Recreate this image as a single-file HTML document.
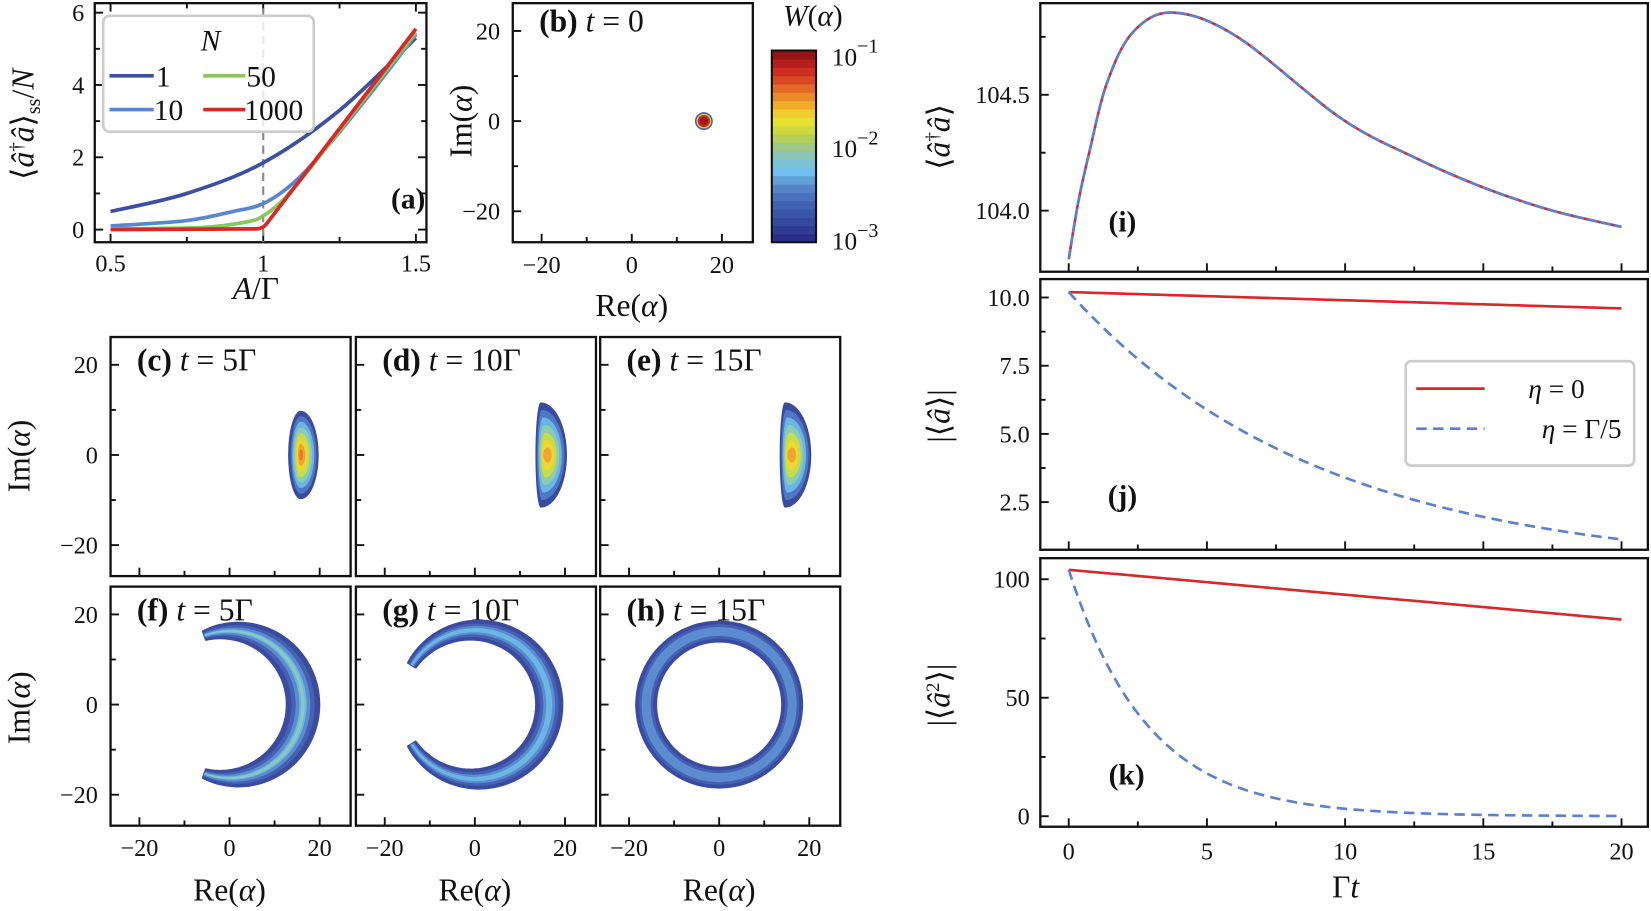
<!DOCTYPE html>
<html><head><meta charset="utf-8">
<style>
html,body{margin:0;padding:0;background:#fff;}
svg{display:block;}
text{font-family:"Liberation Serif","DejaVu Serif",serif;fill:#111;}
</style></head>
<body>
<svg id="s" width="1651" height="911" viewBox="0 0 1568 865" preserveAspectRatio="none" xmlns="http://www.w3.org/2000/svg"></svg>
<script>
const S=document.getElementById('s');let H='';
function add(s){H+=s;}
function T(x,y,s,sz,o){o=o||{};add(`<text x="${x}" y="${y}" font-size="${sz}" text-anchor="${o.a||'middle'}" ${o.b?'font-weight="bold"':''} ${o.i?'font-style="italic"':''} ${o.r?`transform="rotate(-90 ${x} ${y})"`:''}>${s}</text>`);}
function frame(x0,y0,x1,y1){add(`<rect x="${x0}" y="${y0}" width="${x1-x0}" height="${y1-y0}" fill="none" stroke="#111" stroke-width="2.2"/>`);}
function tick(x,y,dx,dy){add(`<line x1="${x}" y1="${y}" x2="${x+dx}" y2="${y+dy}" stroke="#111" stroke-width="1.8"/>`);}
function cr(pts){let d=`M${pts[0][0]},${pts[0][1]}`;for(let i=0;i<pts.length-1;i++){const p0=pts[Math.max(0,i-1)],p1=pts[i],p2=pts[i+1],p3=pts[Math.min(pts.length-1,i+2)];d+=` C${p1[0]+(p2[0]-p0[0])/6},${p1[1]+(p2[1]-p0[1])/6} ${p2[0]-(p3[0]-p1[0])/6},${p2[1]-(p3[1]-p1[1])/6} ${p2[0]},${p2[1]}`;}return d;}
function path(d,c,w,dash){add(`<path d="${d}" fill="none" stroke="${c}" stroke-width="${w}" ${dash?`stroke-dasharray="${dash}"`:''} stroke-linejoin="round"/>`);}

// ---------- (a)
const ax=x=>105+(x-0.5)*290, ay=y=>218-y*34.33;
frame(90,3,405,230);
[0.5,1,1.5].forEach(v=>{tick(ax(v),230,0,-8);tick(ax(v),3,0,8);T(ax(v),258,v,23);});
[0.75,1.25].forEach(v=>{tick(ax(v),230,0,-5);tick(ax(v),3,0,5);});
[0,2,4,6].forEach(v=>{tick(90,ay(v),8,0);tick(405,ay(v),-8,0);T(80,ay(v)+8,v,23,{a:'end'});});
[1,3,5].forEach(v=>{tick(90,ay(v),5,0);tick(405,ay(v),-5,0);});
add(`<line x1="250" y1="8" x2="250" y2="230" stroke="#888" stroke-width="2" stroke-dasharray="8,5"/>`);
const P=a=>a.map(p=>[ax(p[0]),ay(p[1])]);
path(cr(P([[0.5,0.5],[0.75,1.0],[1,1.85],[1.25,3.3],[1.5,5.3]])),'#3c4fa3',3.5);
path(cr(P([[0.5,0.1],[0.75,0.25],[0.9,0.5],[1,0.72],[1.1,1.3],[1.2,2.2],[1.35,3.75],[1.5,5.4]])),'#5b86cf',3.5);
path(cr(P([[0.5,0.02],[0.8,0.06],[0.95,0.22],[1.0,0.38],[1.05,0.7],[1.1,1.15],[1.2,2.2],[1.5,5.45]])),'#8fc45a',3.5);
path(`M${ax(0.5)},${ay(0)} L${ax(0.98)},${ay(0.02)} Q${ax(1.0)},${ay(0.04)} ${ax(1.01)},${ay(0.15)} L${ax(1.5)},${ay(5.55)}`,'#d7282a',3.5);
add(`<rect x="98" y="15" width="200" height="110" rx="6" fill="#fff" fill-opacity="0.8" stroke="#ccc" stroke-width="2.5"/>`);
T(200,48,'N',28,{i:1});
add(`<line x1="104" y1="72" x2="146" y2="72" stroke="#3c4fa3" stroke-width="3.5"/><line x1="193" y1="72" x2="233" y2="72" stroke="#8fc45a" stroke-width="3.5"/>`);
add(`<line x1="104" y1="104" x2="146" y2="104" stroke="#5b86cf" stroke-width="3.5"/><line x1="193" y1="104" x2="233" y2="104" stroke="#d7282a" stroke-width="3.5"/>`);
T(148,82,'1',28,{a:'start'});T(234,82,'50',28,{a:'start'});T(146,114,'10',28,{a:'start'});T(232,114,'1000',28,{a:'start'});
T(404,198,'(a)',28,{a:'end',b:1});
T(243,284,'<tspan font-style="italic">A</tspan>/Γ',30);
T(32,118,'⟨<tspan font-style="italic">â</tspan><tspan dy="-10" font-size="18">†</tspan><tspan dy="10" font-style="italic">â</tspan>⟩<tspan dy="6" font-size="19">ss</tspan><tspan dy="-6">/</tspan><tspan font-style="italic">N</tspan>',30,{r:1});

// ---------- phase space axes
function phase(x0,y0,yl,xl){const x1=x0+228,y1=y0+227;frame(x0,y0,x1,y1);
 const cx=x0+113,cy=y0+112,k=4.28;
 [-20,0,20].forEach(v=>{tick(cx+v*k,y1,0,-8);tick(x0,cy-v*k,8,0);if(yl)T(x0-12,cy-v*k+8,v<0?'−20':v,23,{a:'end'});if(xl)T(cx+v*k,y1+29,v<0?'−20':v,23);});
 [-10,10].forEach(v=>{tick(cx+v*k,y1,0,-5);tick(x0,cy-v*k,5,0);});
 return {cx,cy,k};}
// (b)
const B=phase(487,3,1,1);
add(`<circle cx="${B.cx+16*B.k}" cy="${B.cy}" r="8.5" fill="#3e62b8"/><circle cx="${B.cx+16*B.k}" cy="${B.cy}" r="7" fill="#e6d33a"/><circle cx="${B.cx+16*B.k}" cy="${B.cy}" r="5.8" fill="#c62a22"/><circle cx="${B.cx+16*B.k}" cy="${B.cy}" r="4" fill="#9e1515"/>`);
T(512,30,'<tspan font-weight="bold">(b)</tspan> <tspan font-style="italic">t</tspan> = 0',30,{a:'start'});
T(448,115,'Im(<tspan font-style="italic">α</tspan>)',30,{r:1});
T(600,300,'Re(<tspan font-style="italic">α</tspan>)',30);
// colorbar
const cols=['#2b2e86','#2f3b94','#34499f','#3b56a8','#4163b2','#4a72bd','#5585c8','#62a0d8','#6fc0ef','#7cc2d6','#8ac5b5','#9ec986','#b5d05a','#cfd93e','#e6e030','#efcc2c','#f0ad2a','#ea8b28','#e36a26','#d94824','#cc2f22','#b51e1c','#951515'];
const cbx=733,cbt=48,cbb=230,n=cols.length,hh=(cbb-cbt)/n;
cols.forEach((c,i)=>add(`<rect x="${cbx}" y="${(cbb-(i+1)*hh).toFixed(2)}" width="42" height="${(hh+0.6).toFixed(2)}" fill="${c}"/>`));
add(`<rect x="${cbx}" y="${cbt}" width="42" height="${cbb-cbt}" fill="none" stroke="#111" stroke-width="2"/>`);
T(790,62,'10<tspan dy="-12" font-size="19">−1</tspan>',24,{a:'start'});
T(790,149,'10<tspan dy="-12" font-size="19">−2</tspan>',24,{a:'start'});
T(790,237,'10<tspan dy="-12" font-size="19">−3</tspan>',24,{a:'start'});
T(772,24,'<tspan font-style="italic">W</tspan>(<tspan font-style="italic">α</tspan>)',28);

// row c-e
const X0=[105,338,570];
const labs1=['(c)','(d)','(e)'],labs2=['(f)','(g)','(h)'],tt=['5Γ','10Γ','15Γ'];
const blobC=['#3a4a9e','#4f78c4','#6cb4e4','#8cccb0','#c8dc4a','#eed633','#f0a62c','#e47a26'];
X0.forEach((x0,i)=>{
 const A=phase(x0,320,i==0,false);
 T(x0+25,352,`<tspan font-weight="bold">${labs1[i]}</tspan> <tspan font-style="italic">t</tspan> = ${tt[i]}`,30,{a:'start'});
 const cx=i==0?A.cx+15.8*A.k:A.cx+14.6*A.k, cy=A.cy;
 const rxR=i==0?17:25, rxL=i==0?12:5, ry=i==0?42:50;
 const layers=i==0?8:7;
 for(let j=0;j<layers;j++){const f=1-j/(layers);const c=blobC[j];
  const sc=f;
  const R=rxR*sc,L=rxL*(i==0?sc:1)*(j==0?1:0.9),Y=ry*sc; const ox=i==0?0:(1-sc)*8;
  add(`<path d="M${cx+ox},${cy-Y} A${R},${Y} 0 0 1 ${cx+ox},${cy+Y} A${L},${Y} 0 0 1 ${cx+ox},${cy-Y}Z" fill="${c}"/>`);}
});
// row f-h
const ringC=['#3b4b9f','#4661b4','#5a8ccf','#6cb6e6','#8bcab8'];
function crescent(A,R,w0,we,tmax,nl,uniform){
 for(let j=0;j<nl;j++){const f=[1,0.72,0.45,0.22,0.1][j];let out=[],inn=[];
  const N=120;for(let q=0;q<=N;q++){const t=-tmax+2*tmax*q/N;
   const u=Math.abs(t)/tmax;let w=uniform?w0:(we+(w0-we)*Math.cos(u*Math.PI/2));w*=f;
   out.push([A.cx+(R+w)*Math.cos(t)*A.k,A.cy-(R+w)*Math.sin(t)*A.k]);inn.push([A.cx+(R-w)*Math.cos(t)*A.k,A.cy-(R-w)*Math.sin(t)*A.k]);}
  inn.reverse();const pts=out.concat(inn);
  add(`<path d="M${pts.map(p=>p[0].toFixed(1)+','+p[1].toFixed(1)).join(' L')}Z" fill="${ringC[j]}" stroke="${ringC[j]}" stroke-width="${j==0?2:0}" stroke-linejoin="round"/>`);}
}
X0.forEach((x0,i)=>{
 const A=phase(x0,557,i==0,true);
 T(x0+25,589,`<tspan font-weight="bold">${labs2[i]}</tspan> <tspan font-style="italic">t</tspan> = ${tt[i]}`,30,{a:'start'});
 if(i==0)crescent(A,16.3,3.6,1.0,110*Math.PI/180,5,false);
 if(i==1)crescent(A,16.5,2.9,1.0,148*Math.PI/180,4,false);
 if(i==2)crescent(A,16.2,2.2,2.2,Math.PI,3,true);
 T(x0+113,855,'Re(<tspan font-style="italic">α</tspan>)',30);
});
T(28,433,'Im(<tspan font-style="italic">α</tspan>)',30,{r:1});
T(28,672,'Im(<tspan font-style="italic">α</tspan>)',30,{r:1});

// ---------- right panels
const rx=t=>1015+t*26.25;
function rframe(y0,y1,bottomLabels){frame(988,y0,1565,y1);
 [0,5,10,15,20].forEach(v=>{tick(rx(v),y1,0,-8);if(bottomLabels)T(rx(v),816,v,23);});
 [2.5,7.5,12.5,17.5].forEach(v=>tick(rx(v),y1,0,-5));}
// (i)
rframe(3,258,false);
const iy=v=>200-(v-104)*220;
[104,104.5].forEach(v=>{tick(988,iy(v),8,0);T(978,iy(v)+8,v.toFixed(1),23,{a:'end'});});
[104.25,104.75].forEach(v=>tick(988,iy(v),5,0));
const ipts=[[0,103.79],[0.35,104.04],[0.76,104.26],[1.38,104.55],[2.32,104.77],[3.77,104.855],[6.1,104.75],[9.83,104.40],[12.5,104.23],[15,104.1],[17.5,104.0],[20,103.93]].map(p=>[rx(p[0]),iy(p[1])]);
path(cr(ipts),'#d7282a',2.5);path(cr(ipts),'#5b80cf',2.5,'10,3');
T(1066,220,'(i)',28,{b:1});
T(902,130,'⟨<tspan font-style="italic">â</tspan><tspan dy="-10" font-size="18">†</tspan><tspan dy="10" font-style="italic">â</tspan>⟩',30,{r:1});
// (j)
rframe(265,522,false);
const jy=v=>412-(v-5)*25.9;
[2.5,5,7.5,10].forEach(v=>{tick(988,jy(v),8,0);T(978,jy(v)+8,v.toFixed(1),23,{a:'end'});});
[3.75,6.25,8.75].forEach(v=>tick(988,jy(v),5,0));
let rj=[],bj=[];for(let t=0;t<=20;t+=0.25){rj.push([rx(t),jy(10.2-0.03*t)]);bj.push([rx(t),jy(10.2*Math.exp(-0.11*t))]);}
path('M'+rj.map(p=>p.join(',')).join(' L'),'#d7282a',2.5);
path('M'+bj.map(p=>p.join(',')).join(' L'),'#5b80cf',2.5,'10,6');
T(1066,480,'(j)',28,{b:1});
T(902,395,'|⟨<tspan font-style="italic">â</tspan>⟩|',30,{r:1});
add(`<rect x="1335" y="343" width="217" height="99" rx="5" fill="#fff" stroke="#ccc" stroke-width="2.5"/>`);
add(`<line x1="1345" y1="369" x2="1410" y2="369" stroke="#d7282a" stroke-width="2.5"/><line x1="1345" y1="407" x2="1410" y2="407" stroke="#5b80cf" stroke-width="2.5" stroke-dasharray="10,6"/>`);
T(1505,378,'<tspan font-style="italic">η</tspan> = 0',26,{a:'end'});
T(1540,416,'<tspan font-style="italic">η</tspan> = Γ/5',26,{a:'end'});
// (k)
rframe(530,785,true);
const ky=v=>775-v*2.25;
[0,50,100].forEach(v=>{tick(988,ky(v),8,0);T(978,ky(v)+8,v,23,{a:'end'});});
[25,75].forEach(v=>tick(988,ky(v),5,0));
let rk=[],bk=[];for(let t=0;t<=20;t+=0.2){rk.push([rx(t),ky(104-1.05*t)]);bk.push([rx(t),ky(104*Math.exp(-0.35*t))]);}
path('M'+rk.map(p=>p.join(',')).join(' L'),'#d7282a',2.5);
path('M'+bk.map(p=>p.join(',')).join(' L'),'#5b80cf',2.5,'10,6');
T(1070,745,'(k)',28,{b:1});
T(902,660,'|⟨<tspan font-style="italic">â</tspan><tspan dy="-10" font-size="18">2</tspan><tspan dy="10">⟩|</tspan>',30,{r:1});
T(1278,852,'Γ<tspan font-style="italic">t</tspan>',30);
S.innerHTML=H;
</script>
</body></html>
